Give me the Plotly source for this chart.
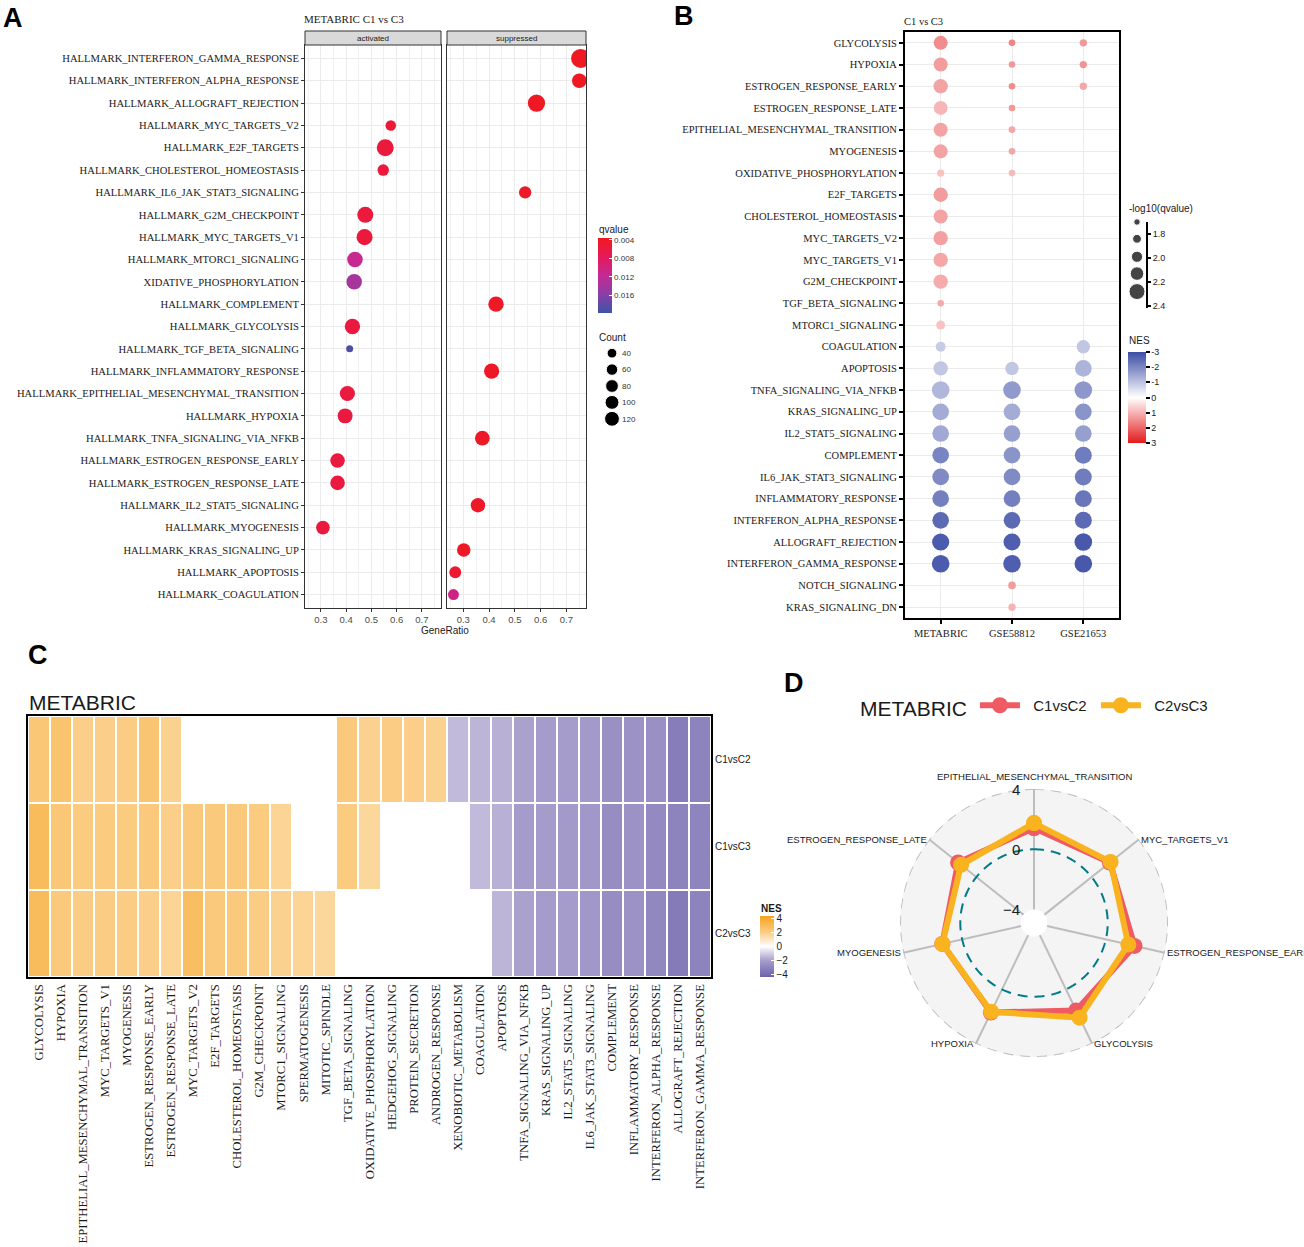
import numpy as np
import plotly.graph_objects as go

W, H = 1304, 1247
def px(x): return x / W
def py(y): return 1 - y / H

SERIF = "Liberation Serif"
SANS = "Liberation Sans"

# ---------------- Panel A data ----------------
A_title = "METABRIC C1 vs C3"
A_terms = ["HALLMARK_INTERFERON_GAMMA_RESPONSE", "HALLMARK_INTERFERON_ALPHA_RESPONSE",
           "HALLMARK_ALLOGRAFT_REJECTION", "HALLMARK_MYC_TARGETS_V2", "HALLMARK_E2F_TARGETS",
           "HALLMARK_CHOLESTEROL_HOMEOSTASIS", "HALLMARK_IL6_JAK_STAT3_SIGNALING",
           "HALLMARK_G2M_CHECKPOINT", "HALLMARK_MYC_TARGETS_V1", "HALLMARK_MTORC1_SIGNALING",
           "XIDATIVE_PHOSPHORYLATION", "HALLMARK_COMPLEMENT", "HALLMARK_GLYCOLYSIS",
           "HALLMARK_TGF_BETA_SIGNALING", "HALLMARK_INFLAMMATORY_RESPONSE",
           "HALLMARK_EPITHELIAL_MESENCHYMAL_TRANSITION", "HALLMARK_HYPOXIA",
           "HALLMARK_TNFA_SIGNALING_VIA_NFKB", "HALLMARK_ESTROGEN_RESPONSE_EARLY",
           "HALLMARK_ESTROGEN_RESPONSE_LATE", "HALLMARK_IL2_STAT5_SIGNALING",
           "HALLMARK_MYOGENESIS", "HALLMARK_KRAS_SIGNALING_UP", "HALLMARK_APOPTOSIS",
           "HALLMARK_COAGULATION"]
A_group = ["suppressed", "suppressed", "suppressed", "activated", "activated", "activated",
           "suppressed", "activated", "activated", "activated", "activated", "suppressed",
           "activated", "activated", "suppressed", "activated", "activated", "suppressed",
           "activated", "activated", "suppressed", "activated", "suppressed", "suppressed",
           "suppressed"]
A_ratio = [0.755, 0.750, 0.584, 0.577, 0.555, 0.547, 0.540, 0.476, 0.473, 0.435, 0.432, 0.427,
           0.425, 0.414, 0.410, 0.405, 0.396, 0.374, 0.366, 0.366, 0.357, 0.308, 0.302, 0.269, 0.262]
A_count = [151, 73, 117, 33, 111, 40, 47, 95, 95, 87, 86, 85, 85, 22, 82, 81, 79, 75, 73, 73,
           71, 62, 60, 43, 36]
A_qvalue = [0.0040, 0.0040, 0.0040, 0.0052, 0.0056, 0.0056, 0.0043, 0.0056, 0.0056, 0.0115,
            0.0138, 0.0042, 0.0058, 0.0190, 0.0042, 0.0058, 0.0058, 0.0042, 0.0058, 0.0058,
            0.0042, 0.0058, 0.0042, 0.0048, 0.0108]
A_facets = ["activated", "suppressed"]
A_xticks = [0.3, 0.4, 0.5, 0.6, 0.7]
A_xminor = [0.25, 0.35, 0.45, 0.55, 0.65, 0.75]
A_count_breaks = [40, 60, 80, 100, 120]
A_q_breaks = [0.004, 0.008, 0.012, 0.016]

# ---------------- Panel B data ----------------
B_title = "C1 vs C3"
B_terms = ["GLYCOLYSIS", "HYPOXIA", "ESTROGEN_RESPONSE_EARLY", "ESTROGEN_RESPONSE_LATE",
           "EPITHELIAL_MESENCHYMAL_TRANSITION", "MYOGENESIS", "OXIDATIVE_PHOSPHORYLATION",
           "E2F_TARGETS", "CHOLESTEROL_HOMEOSTASIS", "MYC_TARGETS_V2", "MYC_TARGETS_V1",
           "G2M_CHECKPOINT", "TGF_BETA_SIGNALING", "MTORC1_SIGNALING", "COAGULATION",
           "APOPTOSIS", "TNFA_SIGNALING_VIA_NFKB", "KRAS_SIGNALING_UP", "IL2_STAT5_SIGNALING",
           "COMPLEMENT", "IL6_JAK_STAT3_SIGNALING", "INFLAMMATORY_RESPONSE",
           "INTERFERON_ALPHA_RESPONSE", "ALLOGRAFT_REJECTION", "INTERFERON_GAMMA_RESPONSE",
           "NOTCH_SIGNALING", "KRAS_SIGNALING_DN"]
B_datasets = ["METABRIC", "GSE58812", "GSE21653"]
N = None
B_nes_METABRIC = [1.5, 1.3, 1.2, 0.95, 1.2, 1.2, 0.8, 1.3, 1.2, 1.25, 1.15, 1.1, 1.1, 0.8,
                  -0.85, -0.95, -1.2, -1.4, -1.45, -2.05, -1.95, -2.15, -2.5, -2.75, -2.75, N, N]
B_lq_METABRIC = [2.16, 2.16, 2.18, 2.15, 2.16, 2.16, 1.75, 2.18, 2.16, 2.18, 2.18, 2.18, 1.71,
                 1.85, 1.91, 2.18, 2.38, 2.32, 2.32, 2.32, 2.32, 2.32, 2.32, 2.35, 2.38, N, N]
B_nes_GSE58812 = [1.6, 1.35, 1.5, 1.35, 1.15, 1.15, 0.9, N, N, N, N, N, N, N, N,
                  -0.95, -1.7, -1.4, -1.6, -1.8, -1.95, -2.15, -2.5, -2.7, -2.7, 1.3, 1.0]
B_lq_GSE58812 = [1.71, 1.70, 1.71, 1.71, 1.71, 1.71, 1.71, N, N, N, N, N, N, N, N,
                 2.12, 2.38, 2.32, 2.32, 2.32, 2.32, 2.32, 2.32, 2.34, 2.38, 1.77, 1.75]
B_nes_GSE21653 = [1.35, 1.4, 1.15, N, N, N, N, N, N, N, N, N, N, N, -0.95,
                  -1.25, -1.75, -1.8, -1.6, -2.2, -2.2, -2.3, -2.5, -2.8, -2.8, N, N]
B_lq_GSE21653 = [1.75, 1.75, 1.75, N, N, N, N, N, N, N, N, N, N, N, 2.12,
                 2.32, 2.38, 2.32, 2.32, 2.34, 2.34, 2.34, 2.34, 2.38, 2.38, N, N]
B_nes_breaks = [-3, -2, -1, 0, 1, 2, 3]
B_size_breaks = [1.8, 2.0, 2.2, 2.4]
B_size_legend = [1.70, 1.84, 1.99, 2.13, 2.28, 2.42]

# ---------------- Panel C data ----------------
C_title = "METABRIC"
C_terms = ["GLYCOLYSIS", "HYPOXIA", "EPITHELIAL_MESENCHYMAL_TRANSITION", "MYC_TARGETS_V1",
           "MYOGENESIS", "ESTROGEN_RESPONSE_EARLY", "ESTROGEN_RESPONSE_LATE", "MYC_TARGETS_V2",
           "E2F_TARGETS", "CHOLESTEROL_HOMEOSTASIS", "G2M_CHECKPOINT", "MTORC1_SIGNALING",
           "SPERMATOGENESIS", "MITOTIC_SPINDLE", "TGF_BETA_SIGNALING",
           "OXIDATIVE_PHOSPHORYLATION", "HEDGEHOG_SIGNALING", "PROTEIN_SECRETION",
           "ANDROGEN_RESPONSE", "XENOBIOTIC_METABOLISM", "COAGULATION", "APOPTOSIS",
           "TNFA_SIGNALING_VIA_NFKB", "KRAS_SIGNALING_UP", "IL2_STAT5_SIGNALING",
           "IL6_JAK_STAT3_SIGNALING", "COMPLEMENT", "INFLAMMATORY_RESPONSE",
           "INTERFERON_ALPHA_RESPONSE", "ALLOGRAFT_REJECTION", "INTERFERON_GAMMA_RESPONSE"]
C_rows = ["C1vsC2", "C1vsC3", "C2vsC3"]
C_nes_C1vsC2 = [2.3, 2.5, 1.9, 1.9, 2.0, 2.4, 1.8, N, N, N, N, N, N, N, 2.2, 1.8, 2.0, 1.9,
                1.8, -1.4, -1.5, -1.6, -1.9, -2.0, -2.0, -2.1, -2.5, -2.4, -2.5, -3.2, -3.0]
C_nes_C1vsC3 = [2.9, 2.3, 2.1, 2.1, 2.1, 2.2, 1.9, 2.2, 2.2, 2.2, 2.1, 1.7, N, N, 2.1, 1.6,
                N, N, N, N, -1.4, -1.6, -2.0, -2.0, -2.1, -2.2, -2.6, -2.4, -2.7, -3.0, -2.9]
C_nes_C2vsC3 = [2.9, 2.2, 2.0, 2.0, 2.0, 1.9, 1.7, 2.8, 2.2, 2.2, 2.0, 1.8, 1.7, 1.6, N, N,
                N, N, N, N, N, -1.5, -1.9, -2.0, -2.0, -2.2, -2.6, -2.4, -2.8, -3.3, -3.0]
C_breaks = [-4, -2, 0, 2, 4]

# ---------------- Panel D data ----------------
D_title = "METABRIC"
D_axes = ["EPITHELIAL_MESENCHYMAL_TRANSITION", "MYC_TARGETS_V1", "ESTROGEN_RESPONSE_EARLY",
          "GLYCOLYSIS", "HYPOXIA", "MYOGENESIS", "ESTROGEN_RESPONSE_LATE"]
D_series = ["C1vsC2", "C2vsC3"]
D_C1vsC2 = [1.41, 1.55, 1.95, 1.55, 1.70, 1.35, 1.55]
D_C2vsC3 = [1.74, 1.61, 1.53, 2.08, 1.65, 1.34, 1.30]
D_grid = [-4, 0, 4]

fig = go.Figure()

# ================= Panel A =================
cmin_c, cmax_c = min(A_count), max(A_count)
def size_A(c):
    return 7 + 12 * np.sqrt((np.asarray(c, float) - cmin_c) / (cmax_c - cmin_c))

nA = len(A_terms)
A_y = [nA - 1 - i for i in range(nA)]
for k, facet in enumerate(A_facets):
    idx = [i for i, g in enumerate(A_group) if g == facet]
    fig.add_trace(go.Scatter(
        x=[A_ratio[i] for i in idx], y=[A_y[i] for i in idx], mode="markers",
        marker=dict(size=size_A([A_count[i] for i in idx]),
                    color=[-A_qvalue[i] for i in idx], coloraxis="coloraxis",
                    line=dict(width=0), opacity=1),
        xaxis="x" if k == 0 else "x2", yaxis="y" if k == 0 else "y2",
        showlegend=False, hoverinfo="skip"))

# Count legend
fig.add_trace(go.Scatter(
    x=[0] * len(A_count_breaks), y=list(range(len(A_count_breaks))), mode="markers",
    marker=dict(size=size_A(A_count_breaks) * 0.85, color="black", opacity=1),
    xaxis="x3", yaxis="y3", showlegend=False, cliponaxis=False, hoverinfo="skip"))

# ================= Panel B =================
def size_B(v):
    return 6.5 + 11.8 * (np.asarray(v, float) - 1.7) / 0.72

nB = len(B_terms)
B_nes = {"METABRIC": B_nes_METABRIC, "GSE58812": B_nes_GSE58812, "GSE21653": B_nes_GSE21653}
B_lq = {"METABRIC": B_lq_METABRIC, "GSE58812": B_lq_GSE58812, "GSE21653": B_lq_GSE21653}
for j, ds in enumerate(B_datasets):
    idx = [i for i in range(nB) if B_nes[ds][i] is not None]
    fig.add_trace(go.Scatter(
        x=[j] * len(idx), y=[nB - 1 - i for i in idx], mode="markers",
        marker=dict(size=size_B([B_lq[ds][i] for i in idx]),
                    color=[-B_nes[ds][i] for i in idx], coloraxis="coloraxis2",
                    line=dict(width=0), opacity=1),
        xaxis="x4", yaxis="y4", showlegend=False, hoverinfo="skip"))

# size legend for B
fig.add_trace(go.Scatter(
    x=[0] * len(B_size_legend), y=B_size_legend, mode="markers",
    marker=dict(size=size_B(B_size_legend), color="#444444", opacity=1),
    xaxis="x5", yaxis="y5", showlegend=False, cliponaxis=False, hoverinfo="skip"))

# ================= Panel C =================
fig.add_trace(go.Heatmap(
    z=[C_nes_C1vsC2, C_nes_C1vsC3, C_nes_C2vsC3],
    x=list(range(len(C_terms))), y=list(range(len(C_rows))),
    coloraxis="coloraxis3", xgap=2, ygap=2, xaxis="x6", yaxis="y6",
    hoverinfo="skip"))

# ================= Panel D =================
nD = len(D_axes)
D_theta = [k * 360 / nD for k in range(nD)]
circ = np.linspace(0, 360, 361)
fig.add_trace(go.Scatterpolar(r=[D_grid[2]] * len(circ), theta=circ, mode="lines",
                              line=dict(color="#BDBDBD", width=2, dash="10px,7px"),
                              showlegend=False, hoverinfo="skip", cliponaxis=False))
fig.add_trace(go.Scatterpolar(r=[D_grid[1]] * len(circ), theta=circ, mode="lines",
                              line=dict(color="#007A87", width=2, dash="10px,7px"),
                              showlegend=False, hoverinfo="skip", cliponaxis=False))
for name, vals, col in [(D_series[0], D_C1vsC2, "#EF5B63"), (D_series[1], D_C2vsC3, "#F8B31F")]:
    fig.add_trace(go.Scatterpolar(
        r=vals + vals[:1], theta=D_theta + D_theta[:1], mode="lines+markers",
        name="\u00a0\u00a0" + name,
        line=dict(color=col, width=6), marker=dict(color=col, size=16),
        showlegend=True, hoverinfo="skip", cliponaxis=False))

# ================= Layout =================
grid_col = "#EBEBEB"
ax_common_A = dict(range=[0.237, 0.776], tickmode="array", tickvals=A_xticks,
                   ticktext=[f"{v:.1f}" for v in A_xticks],
                   tickfont=dict(family=SANS, size=9.5, color="#4D4D4D"),
                   ticks="outside", ticklen=3, tickcolor="#333333",
                   showgrid=True, gridcolor=grid_col, gridwidth=1.2,
                   minor=dict(tickvals=A_xminor, showgrid=True, gridcolor="#F0F0F0", gridwidth=1, ticks=""),
                   showline=True, mirror=True, linecolor="#333333", linewidth=1,
                   zeroline=False, automargin=False)
ay_common_A = dict(range=[-0.6, nA - 0.4], tickmode="array", tickvals=A_y,
                   showgrid=True, gridcolor=grid_col, gridwidth=1.2, zeroline=False,
                   showline=True, mirror=True, linecolor="#333333", linewidth=1,
                   automargin=False)

fig.update_layout(
    width=W, height=H, margin=dict(l=0, r=0, t=0, b=0), template="none",
    paper_bgcolor="white", plot_bgcolor="white",
    font=dict(family=SANS, color="#1a1a1a"),
    xaxis=dict(domain=[px(305), px(441)], anchor="y", **ax_common_A),
    xaxis2=dict(domain=[px(447), px(586)], anchor="y2", **ax_common_A),
    yaxis=dict(domain=[py(608), py(45)], anchor="x", ticktext=A_terms,
               tickfont=dict(family=SERIF, size=10.6, color="#1a1a1a"),
               ticks="outside", ticklen=3, tickcolor="#333333", **ay_common_A),
    yaxis2=dict(domain=[py(608), py(45)], anchor="x2", showticklabels=False, ticks="",
                **ay_common_A),
    # Count legend axes
    xaxis3=dict(domain=[px(603), px(621)], range=[-1, 1], visible=False, anchor="y3"),
    yaxis3=dict(domain=[py(427), py(345)], range=[len(A_count_breaks) - 0.5, -0.5],
                anchor="x3", side="right", tickmode="array",
                tickvals=list(range(len(A_count_breaks))),
                ticktext=[str(v) for v in A_count_breaks],
                tickfont=dict(family=SANS, size=8, color="#333333"),
                showgrid=False, zeroline=False, showline=False, ticks="", automargin=False),
    # Panel B
    xaxis4=dict(domain=[px(905), px(1119)], anchor="y4", range=[-0.5, 2.5], tickmode="array",
                tickvals=list(range(len(B_datasets))), ticktext=B_datasets,
                tickfont=dict(family=SERIF, size=10.5, color="#1a1a1a"),
                ticks="outside", ticklen=4, tickwidth=1.5, tickcolor="black",
                showgrid=True, gridcolor=grid_col, zeroline=False,
                showline=True, mirror=True, linecolor="black", linewidth=2, automargin=False),
    yaxis4=dict(domain=[py(618), py(32)], anchor="x4", range=[-0.5, nB - 0.5], tickmode="array",
                tickvals=[nB - 1 - i for i in range(nB)], ticktext=B_terms,
                tickfont=dict(family=SERIF, size=10.5, color="#1a1a1a"),
                ticks="outside", ticklen=4, tickwidth=2, tickcolor="black",
                showgrid=True, gridcolor=grid_col, zeroline=False,
                showline=True, mirror=True, linecolor="black", linewidth=2, automargin=False),
    xaxis5=dict(domain=[px(1128), px(1146)], range=[-1, 1], visible=False, anchor="y5"),
    yaxis5=dict(domain=[py(308), py(222)], range=[B_size_legend[-1] - 0.003, B_size_legend[0]],
                anchor="x5", side="right", tickmode="array", tickvals=B_size_breaks,
                ticktext=[f"{v:.1f}" for v in B_size_breaks],
                tickfont=dict(family=SANS, size=9, color="#1a1a1a"),
                ticks="outside", ticklen=3, tickwidth=2, tickcolor="black",
                showline=True, linecolor="black", linewidth=2,
                showgrid=False, zeroline=False, automargin=False),
    # Panel C
    xaxis6=dict(domain=[px(28), px(711)], anchor="y6", range=[-0.5, len(C_terms) - 0.5],
                tickmode="array", tickvals=list(range(len(C_terms))), ticktext=C_terms,
                tickangle=-90, tickfont=dict(family=SERIF, size=12.7, color="#1a1a1a"),
                ticks="", showgrid=False, zeroline=False,
                showline=True, mirror=True, linecolor="black", linewidth=2, automargin=False),
    yaxis6=dict(domain=[py(977), py(716)], anchor="x6", range=[len(C_rows) - 0.5, -0.5],
                tickmode="array", tickvals=list(range(len(C_rows))), ticktext=C_rows,
                side="right", tickfont=dict(family=SANS, size=10, color="#1a1a1a"),
                ticks="", showgrid=False, zeroline=False,
                showline=True, mirror=True, linecolor="black", linewidth=2, automargin=False),
    # colour axes
    coloraxis=dict(
        cmin=-0.0198, cmax=-0.0036,
        colorscale=[[0, "#3C54A6"], [0.25, "#8A3FA6"], [0.5, "#C42A92"], [0.75, "#E5195A"], [1, "#F0191E"]],
        colorbar=dict(x=px(598), xanchor="left", xpad=0, y=py(313), yanchor="bottom", ypad=0,
                      len=75, lenmode="pixels", thickness=14, outlinewidth=0,
                      tickmode="array", tickvals=[-v for v in A_q_breaks],
                      ticktext=[f"{v:.3f}" for v in A_q_breaks],
                      ticks="inside", ticklen=3, tickcolor="white",
                      tickfont=dict(family=SANS, size=8, color="#333333"))),
    coloraxis2=dict(
        cmin=-3, cmax=3,
        colorscale=[[0, "#E41A1C"], [0.5, "#FFFFFF"], [1, "#3B4CA5"]],
        colorbar=dict(x=px(1128), xanchor="left", xpad=0, y=py(443), yanchor="bottom", ypad=0,
                      len=91, lenmode="pixels", thickness=18, outlinewidth=0,
                      tickmode="array", tickvals=[-v for v in B_nes_breaks],
                      ticktext=[str(v) for v in B_nes_breaks],
                      ticks="outside", ticklen=4, tickwidth=2, tickcolor="black",
                      tickfont=dict(family=SANS, size=9, color="#1a1a1a"))),
    coloraxis3=dict(
        cmin=-4.3, cmax=4.3,
        colorscale=[[0, "#6B61AB"], [0.27, "#A79DCB"], [0.5, "#FFFFFF"], [0.73, "#FBCD85"], [1, "#F6A21E"]],
        colorbar=dict(x=px(760), xanchor="left", xpad=0, y=py(977), yanchor="bottom", ypad=0,
                      len=61, lenmode="pixels", thickness=14, outlinewidth=0,
                      tickmode="array", tickvals=C_breaks,
                      ticktext=[str(v).replace("-", "\u2212") for v in C_breaks],
                      ticks="inside", ticklen=3, tickcolor="white",
                      tickfont=dict(family=SANS, size=10, color="#1a1a1a"))),
    # Panel D polar
    polar=dict(
        domain=dict(x=[px(900), px(1168)], y=[py(1057), py(789)]),
        bgcolor="#F4F4F4", hole=0.1,
        angularaxis=dict(rotation=90, direction="clockwise", tickmode="array",
                         tickvals=D_theta, showticklabels=False, showgrid=True,
                         gridcolor="#BDBDBD", gridwidth=2, showline=False, ticks=""),
        radialaxis=dict(range=[D_grid[0], D_grid[2]], showticklabels=False,
                        showgrid=False, showline=False, ticks="", angle=90)),
    showlegend=True,
    legend=dict(orientation="h", x=px(858), y=py(708), xanchor="left", yanchor="middle",
                title=dict(text=D_title, side="left", font=dict(family=SANS, size=21, color="#1a1a1a")),
                font=dict(family=SANS, size=15, color="#1a1a1a"), bgcolor="rgba(0,0,0,0)",
                itemwidth=40, entrywidth=66, tracegroupgap=0),
)

# strips for panel A
shapes = []
annotations = []
for facet, (x0, x1) in zip(A_facets, [(305, 441), (447, 586)]):
    shapes.append(dict(type="rect", xref="paper", yref="paper", x0=px(x0), x1=px(x1),
                       y0=py(45), y1=py(31), fillcolor="#D9D9D9",
                       line=dict(color="#333333", width=1), layer="above"))
    annotations.append(dict(text=facet, xref="paper", yref="paper", x=px((x0 + x1) / 2),
                            y=py(38), showarrow=False, xanchor="center", yanchor="middle",
                            font=dict(family=SANS, size=8, color="#1a1a1a")))

def ann(text, x, y, size, family=SANS, xanchor="left", bold=False, color="#1a1a1a",
        yanchor="middle"):
    annotations.append(dict(text=f"<b>{text}</b>" if bold else text, xref="paper", yref="paper",
                            x=px(x), y=py(y), showarrow=False, xanchor=xanchor,
                            yanchor=yanchor, font=dict(family=family, size=size, color=color)))

# radar geometry (matches the polar domain above)
D_cx, D_cy, D_R, D_hole = 1034, 923, 134, 0.1
# radial tick labels beside the top spoke
for g in D_grid:
    rr = D_R * (D_hole + (1 - D_hole) * (g - D_grid[0]) / (D_grid[2] - D_grid[0]))
    ann(str(g).replace("-", "\u2212"), D_cx - 12, D_cy - rr, 15, xanchor="right")
# axis labels at the spoke ends
for lab, th in zip(D_axes, D_theta):
    s, c = np.sin(np.radians(th)), np.cos(np.radians(th))
    ex, ey = D_cx + D_R * s, D_cy - D_R * c
    if abs(s) < 0.01:
        ann(lab, ex, ey - 5, 9.5, xanchor="center", yanchor="bottom")
    else:
        ann(lab, ex, ey, 9.5, xanchor="left" if s > 0 else "right")

ann("A", 1, 18, 27, bold=True, color="black")
ann("B", 672, 16, 27, bold=True, color="black")
ann("C", 26, 655, 27, bold=True, color="black")
ann("D", 782, 683, 27, bold=True, color="black")
ann(A_title, 302, 19, 11, family=SERIF)
ann("GeneRatio", 445, 630, 10, xanchor="center")
ann("qvalue", 597, 229, 10)
ann("Count", 597, 337, 10)
ann(B_title, 902, 21, 10.5, family=SERIF)
ann("-log10(qvalue)", 1127, 209, 10)
ann("NES", 1127, 341, 10)
ann(C_title, 27, 702, 21)
ann("NES", 759, 908, 10, bold=True)

fig.update_layout(shapes=shapes, annotations=annotations)
fig.write_html("out.html", config={"displayModeBar": False},
               post_script="document.body.style.margin='0px';")
